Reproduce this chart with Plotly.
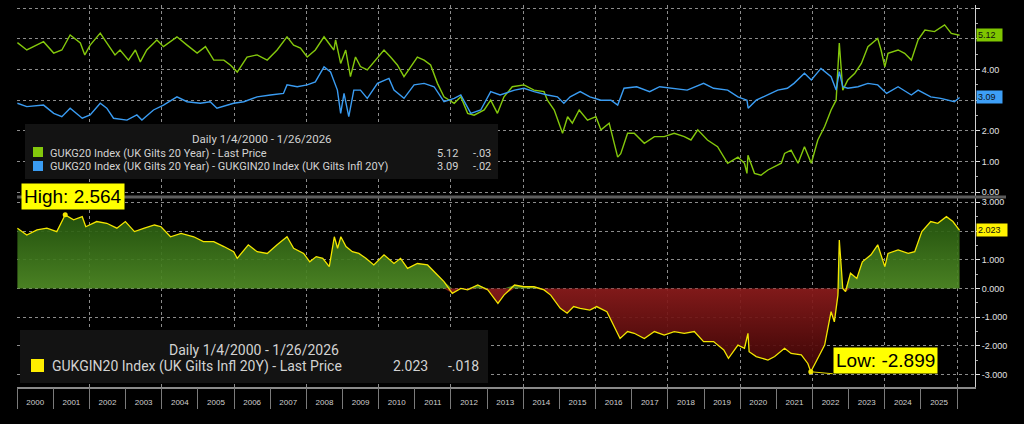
import plotly.graph_objects as go

# ---------------- data ----------------
green_dates = ["2000-01-04","2000-04-08","2000-09-24","2001-01-05","2001-03-28","2001-06-20","2001-10-01","2001-11-15",
    "2002-01-08","2002-04-20","2002-06-25","2002-09-16","2002-11-06","2003-01-30","2003-04-10","2003-05-30","2003-08-03",
    "2003-11-13","2004-01-19","2004-06-03","2004-09-13","2004-12-24","2005-03-18","2005-06-10","2005-09-20","2005-11-24",
    "2006-02-02","2006-05-12","2006-08-22","2006-12-02","2007-03-12","2007-06-20","2007-08-26","2007-11-03","2008-01-10",
    "2008-04-01","2008-06-28","2008-09-02","2008-10-05","2008-10-23","2008-12-13","2009-02-02","2009-03-22","2009-05-12",
    "2009-07-01","2009-09-08","2009-11-13","2010-02-24","2010-05-01","2010-07-09","2010-09-14","2010-11-22","2011-01-27",
    "2011-04-05","2011-06-10","2011-08-18","2011-10-23","2012-02-03","2012-04-10","2012-06-18","2012-08-22","2012-12-02",
    "2013-02-06","2013-04-15","2013-06-20","2013-09-12","2014-01-08","2014-04-20","2014-07-30","2014-09-02","2014-11-10",
    "2015-02-02","2015-03-25","2015-05-12","2015-07-20","2015-10-12","2016-01-05","2016-02-25","2016-05-18","2016-08-12",
    "2016-09-12","2016-11-20","2017-01-26","2017-05-08","2017-08-18","2017-11-25","2018-03-06","2018-06-16","2018-08-22",
    "2018-10-30","2019-02-05","2019-05-18","2019-08-28","2019-12-10","2020-02-14","2020-03-10","2020-03-20","2020-05-25",
    "2020-07-30","2020-10-08","2020-12-15","2021-02-20","2021-03-25","2021-05-30","2021-08-08","2021-10-12","2021-12-20",
    "2022-02-24","2022-05-04","2022-07-08","2022-08-28","2022-09-29","2022-11-03","2022-12-24","2023-03-05","2023-05-10",
    "2023-07-15","2023-10-22","2023-11-25","2024-01-02","2024-02-03","2024-05-15","2024-07-20","2024-09-26","2024-12-03",
    "2025-02-10","2025-05-18","2025-08-28","2025-11-03","2026-01-26"]
green_vals = [4.88,4.64,4.91,4.54,4.64,5.13,4.87,4.48,
    4.80,5.19,4.87,4.48,4.64,4.31,4.64,4.25,4.64,
    4.97,4.75,5.07,4.80,4.54,4.75,4.31,4.31,4.15,
    3.92,4.41,4.48,4.31,4.64,5.07,4.80,4.70,4.41,
    4.64,5.07,4.80,4.64,4.97,4.20,4.64,3.77,4.41,
    4.10,3.99,4.25,4.64,4.41,4.15,3.77,4.09,4.41,
    4.31,4.15,3.55,3.11,2.90,3.11,2.57,2.51,2.68,
    3.00,2.57,3.11,3.44,3.50,3.33,3.28,3.00,2.68,
    1.92,2.46,2.25,2.68,2.35,2.46,2.03,2.25,1.14,
    1.25,1.92,1.92,1.59,1.81,1.81,1.92,1.81,1.70,
    2.03,1.70,1.48,0.94,1.14,0.94,0.61,1.20,0.61,
    0.55,0.72,0.83,0.94,1.26,1.37,0.94,1.48,0.94,
    1.70,2.14,2.68,3.00,4.87,3.33,3.66,3.88,4.20,
    4.75,5.02,4.64,4.09,4.53,4.64,4.53,4.31,4.97,
    5.29,5.24,5.46,5.18,5.12]

blue_dates = ["2000-01-04","2000-04-08","2000-09-24","2001-01-05","2001-03-28","2001-06-20","2001-10-20","2002-01-08",
    "2002-04-20","2002-06-25","2002-09-01","2003-01-15","2003-04-25","2003-06-15","2003-10-10","2004-01-19","2004-06-03",
    "2004-09-13","2005-01-25","2005-05-05","2005-07-12","2005-12-28","2006-04-10","2006-08-22","2007-01-03","2007-05-15",
    "2007-06-20","2007-10-01","2008-01-10","2008-04-01","2008-06-28","2008-09-02","2008-11-10","2008-12-13","2009-01-16",
    "2009-03-05","2009-04-25","2009-07-01","2009-09-08","2009-12-20","2010-04-15","2010-06-05","2010-09-14","2010-12-25",
    "2011-04-05","2011-07-15","2011-10-23","2012-02-03","2012-04-10","2012-07-20","2012-10-28","2013-02-06","2013-05-12",
    "2013-10-05","2014-01-08","2014-04-20","2014-09-02","2014-12-12","2015-02-15","2015-04-20","2015-07-30","2015-11-05",
    "2016-02-25","2016-06-05","2016-08-12","2016-10-15","2017-02-20","2017-07-01","2017-10-10","2018-03-06","2018-07-15",
    "2018-12-28","2019-04-08","2019-08-28","2019-12-10","2020-03-10","2020-03-22","2020-06-12","2020-10-08","2021-01-15",
    "2021-04-22","2021-06-28","2021-10-12","2021-12-20","2022-03-28","2022-07-08","2022-08-28","2022-09-29","2022-11-03",
    "2022-12-24","2023-04-05","2023-07-15","2023-10-22","2024-01-20","2024-05-15","2024-09-26","2024-12-03","2025-04-10",
    "2025-07-20","2025-12-05","2026-01-26"]
blue_vals = [2.90,2.79,2.84,2.57,2.46,2.74,2.41,2.52,
    2.90,2.74,2.41,2.35,2.52,2.35,2.68,2.84,3.11,
    2.95,2.90,2.95,2.74,2.90,2.95,3.11,3.17,3.22,
    3.50,3.44,3.50,3.60,4.09,3.92,3.33,2.57,3.22,
    2.46,3.33,3.33,3.06,3.55,3.71,3.33,3.06,3.50,
    3.55,3.44,2.95,3.06,3.17,2.57,2.68,3.28,3.17,
    3.33,3.39,3.28,3.17,3.11,2.90,3.11,3.28,3.11,
    3.00,3.00,2.84,3.39,3.44,3.28,3.44,3.39,3.33,
    3.55,3.39,3.33,3.11,3.00,2.74,3.00,3.17,3.33,
    3.39,3.55,3.88,3.66,4.04,3.77,3.33,3.93,3.44,
    3.39,3.44,3.55,3.50,3.22,3.44,3.17,3.33,3.11,
    3.06,2.95,3.09]

yellow_dates = ["2000-01-04","2000-04-08","2000-07-20","2000-10-28","2001-02-05","2001-05-01","2001-07-25","2001-10-20",
    "2001-11-25","2002-03-15","2002-06-25","2002-10-05","2002-12-30","2003-04-01","2003-07-10","2003-10-20","2003-12-25",
    "2004-03-30","2004-07-15","2004-11-20","2005-02-25","2005-06-10","2005-09-20","2005-12-28","2006-02-02","2006-05-25",
    "2006-08-22","2006-12-02","2007-03-12","2007-06-20","2007-08-26","2007-12-05","2008-02-05","2008-04-10","2008-06-15",
    "2008-08-20","2008-10-10","2008-11-12","2008-12-15","2009-02-05","2009-04-10","2009-06-15","2009-08-25","2009-11-13",
    "2010-02-24","2010-06-05","2010-08-10","2010-10-20","2011-01-27","2011-05-10","2011-08-18","2011-10-23","2012-01-15",
    "2012-04-10","2012-06-18","2012-09-28","2013-01-08","2013-04-20","2013-06-20","2013-10-05","2014-01-08","2014-04-20",
    "2014-07-30","2014-10-05","2015-01-10","2015-03-20","2015-05-25","2015-07-30","2015-11-05","2016-01-12","2016-04-25",
    "2016-07-01","2016-09-05","2016-11-20","2017-01-26","2017-05-08","2017-08-18","2017-11-25","2018-03-06","2018-06-16",
    "2018-09-25","2018-12-28","2019-04-08","2019-07-20","2019-09-05","2019-12-10","2020-02-14","2020-03-20","2020-04-01",
    "2020-06-12","2020-10-08","2020-12-15","2021-03-25","2021-05-30","2021-09-10","2021-11-15","2021-12-15","2022-02-24",
    "2022-05-04","2022-07-08","2022-08-10","2022-09-15","2022-09-29","2022-11-03","2022-12-01","2023-01-20","2023-03-25",
    "2023-05-20","2023-08-15","2023-10-22","2024-01-02","2024-02-03","2024-05-15","2024-08-25","2024-10-30","2025-01-10",
    "2025-04-10","2025-06-20","2025-09-15","2025-11-20","2026-01-26"]
yellow_vals = [2.10,1.86,2.04,2.10,1.98,2.564,2.39,2.50,
    2.15,2.33,2.27,2.10,2.33,1.98,2.10,2.21,2.15,
    1.80,1.92,1.80,1.63,1.63,1.46,1.28,1.05,1.52,
    1.28,1.22,1.52,1.80,1.40,1.22,0.93,1.11,1.05,
    0.76,1.80,1.40,1.80,1.46,1.28,1.22,1.05,0.82,
    1.17,0.87,1.05,0.70,0.87,0.82,0.47,0.24,-0.17,
    0.00,-0.05,0.12,-0.05,-0.52,-0.23,0.12,0.06,0.06,
    -0.05,-0.23,-0.69,-0.86,-0.63,-0.69,-0.75,-0.63,-0.81,
    -1.27,-1.74,-1.50,-1.56,-1.74,-1.50,-1.62,-1.50,-1.56,
    -1.50,-1.85,-1.85,-2.14,-2.43,-1.97,-2.08,-1.56,-2.20,
    -2.37,-2.49,-2.37,-2.08,-2.26,-2.31,-2.61,-2.899,-2.43,
    -1.97,-0.81,-1.16,-0.23,1.69,0.00,-0.11,0.53,0.35,
    0.93,1.17,1.52,0.76,1.22,1.34,1.22,1.28,1.98,
    2.33,2.27,2.50,2.33,2.023]

legend_period = "Daily 1/4/2000 - 1/26/2026"
green_name = "GUKG20 Index (UK Gilts 20 Year) - Last Price"
blue_name = "GUKG20 Index (UK Gilts 20 Year) - GUKGIN20 Index (UK Gilts Infl 20Y)"
yellow_name = "GUKGIN20 Index (UK Gilts Infl 20Y) - Last Price"
green_chg, blue_chg, yellow_chg = "-.03", "-.02", "-.018"
top_ticks = [0, 1, 2, 3, 4, 5, 6]
bottom_ticks = [-3, -2, -1, 0, 1, 2, 3]

# ---------------- colours / layout constants ----------------
GREEN, BLUE, YELLOW = "#84c80c", "#3a9cf2", "#f3e600"
TXT = "#d2d2d2"
W, H = 1024, 424
ML, MR, MT, MB = 17, 49, 5, 37
PW, PH = W - ML - MR, H - MT - MB
X_RANGE = ["1999-12-31", "2026-07-01"]


def px(x):
    return (x - ML) / PW


def py(y):
    return (H - MB - y) / PH


def hidden_under_tag(v, tags, tol):
    return any(abs(v - t) < tol for t in tags)


fig = go.Figure()
fig.add_trace(go.Scatter(x=green_dates, y=green_vals, mode="lines", line=dict(color=GREEN, width=1.4),
                         xaxis="x", yaxis="y", hoverinfo="skip"))
fig.add_trace(go.Scatter(x=blue_dates, y=blue_vals, mode="lines", line=dict(color=BLUE, width=1.4),
                         xaxis="x", yaxis="y", hoverinfo="skip"))

pos = [max(v, 0) for v in yellow_vals]
neg = [min(v, 0) for v in yellow_vals]
fig.add_trace(go.Scatter(x=yellow_dates, y=pos, mode="lines", line=dict(width=0), fill="tozeroy",
                         fillgradient=dict(type="vertical", start=0, stop=3,
                                           colorscale=[[0, "rgba(80,140,38,0.92)"], [1, "rgba(30,78,10,0.92)"]]),
                         xaxis="x2", yaxis="y2", hoverinfo="skip"))
fig.add_trace(go.Scatter(x=yellow_dates, y=neg, mode="lines", line=dict(width=0), fill="tozeroy",
                         fillgradient=dict(type="vertical", start=-3, stop=0,
                                           colorscale=[[0, "rgba(60,4,4,0.92)"], [1, "rgba(140,28,28,0.92)"]]),
                         xaxis="x2", yaxis="y2", hoverinfo="skip"))
fig.add_trace(go.Scatter(x=yellow_dates, y=yellow_vals, mode="lines", line=dict(color=YELLOW, width=1.3),
                         xaxis="x2", yaxis="y2", hoverinfo="skip"))

i_hi = yellow_vals.index(max(yellow_vals))
i_lo = yellow_vals.index(min(yellow_vals))
fig.add_trace(go.Scatter(x=[yellow_dates[i_hi], yellow_dates[i_lo]], y=[yellow_vals[i_hi], yellow_vals[i_lo]],
                         mode="markers", marker=dict(color=YELLOW, size=5), xaxis="x2", yaxis="y2", hoverinfo="skip"))
# carrier for the year-label axis
fig.add_trace(go.Scatter(x=[yellow_dates[0]], y=[0], mode="markers", marker=dict(opacity=0),
                         xaxis="x3", yaxis="y2", hoverinfo="skip"))

top_tags = [green_vals[-1], blue_vals[-1]]
bottom_tags = [yellow_vals[-1]]
top_text = ["" if (v == 6 or hidden_under_tag(v, top_tags, 0.2)) else f"{v:.2f}" for v in top_ticks]
bottom_text = ["" if hidden_under_tag(v, bottom_tags, 0.2) else f"{v:.3f}" for v in bottom_ticks]

grid = dict(showgrid=True, gridcolor="#8c8c8c", griddash="dot", gridwidth=1, zeroline=False)
fig.update_layout(
    width=W, height=H, margin=dict(l=ML, r=MR, t=MT, b=MB),
    paper_bgcolor="#000000", plot_bgcolor="#000000", showlegend=False,
    font=dict(family="Liberation Sans, Arial, sans-serif", color=TXT),
    xaxis=dict(domain=[0, 1], anchor="y", range=X_RANGE, type="date", tick0="2000-01-01", dtick="M24",
               showticklabels=False, ticks="", showline=False, **grid),
    xaxis2=dict(domain=[0, 1], anchor="y2", range=X_RANGE, type="date", tick0="2000-01-01", dtick="M24",
                showticklabels=False, ticks="", showline=True, linecolor="#8a8a8a", linewidth=2, **grid),
    xaxis3=dict(overlaying="x2", anchor="y2", side="bottom", range=X_RANGE, type="date", tick0="2000-01-01",
                dtick="M12", tickformat="%Y", ticklabelmode="period", ticks="outside", ticklen=21,
                tickcolor="#7a7a7a", tickwidth=1, showgrid=False, zeroline=False, showline=False,
                tickfont=dict(size=8, color="#cfcfcf"), ticklabelstandoff=-14),
    yaxis=dict(domain=[py(196), 1], anchor="x", range=[-0.13, 6.11], side="right",
               tickmode="array", tickvals=top_ticks, ticktext=top_text,
               ticks="outside", ticklen=4, tickcolor="#e0e0e0", tickfont=dict(size=9, color="#e0e0e0"),
               showline=True, linecolor="#d0d0d0", linewidth=1,
               minor=dict(tickmode="linear", tick0=0, dtick=0.5, ticks="outside", ticklen=2, tickcolor="#aaaaaa"),
               **grid),
    yaxis2=dict(domain=[0, py(198)], anchor="x2", range=[-3.43, 3.15], side="right",
                tickmode="array", tickvals=bottom_ticks, ticktext=bottom_text,
                ticks="outside", ticklen=4, tickcolor="#e0e0e0", tickfont=dict(size=9, color="#e0e0e0"),
                showline=True, linecolor="#d0d0d0", linewidth=1,
                minor=dict(tickmode="linear", tick0=0, dtick=0.5, ticks="outside", ticklen=2, tickcolor="#aaaaaa"),
                **grid),
)

shapes = [
    # panel separator
    dict(type="line", xref="paper", yref="paper", x0=px(17), x1=px(1006), y0=py(197), y1=py(197),
         line=dict(color="#5c5c5c", width=3)),
    # legend boxes
    dict(type="rect", xref="paper", yref="paper", x0=px(25), x1=px(498), y0=py(179), y1=py(124),
         fillcolor="#131313", line=dict(width=0)),
    dict(type="rect", xref="paper", yref="paper", x0=px(20), x1=px(488), y0=py(383), y1=py(330),
         fillcolor="#131313", line=dict(width=0)),
    # legend swatches
    dict(type="rect", xref="paper", yref="paper", x0=px(33), x1=px(43), y0=py(157), y1=py(147),
         fillcolor=GREEN, line=dict(width=0)),
    dict(type="rect", xref="paper", yref="paper", x0=px(33), x1=px(43), y0=py(171), y1=py(161),
         fillcolor=BLUE, line=dict(width=0)),
    dict(type="rect", xref="paper", yref="paper", x0=px(31), x1=px(44), y0=py(372), y1=py(359),
         fillcolor="#ffee00", line=dict(width=0)),
]
fig.update_layout(shapes=shapes)

LF = "Roboto, Liberation Sans, sans-serif"
ann = []


def txt(x, y, s, size, anchor="left", color=TXT):
    ann.append(dict(xref="paper", yref="paper", x=px(x), y=py(y), text=s, showarrow=False,
                    xanchor=anchor, yanchor="middle", font=dict(family=LF, size=size, color=color)))


txt(262, 139, legend_period, 11.5, "center")
txt(48, 153, green_name, 11)
txt(48, 167, blue_name, 11)
txt(460, 153, f"{green_vals[-1]:.2f}", 11, "right")
txt(493, 153, green_chg, 11, "right")
txt(460, 167, f"{blue_vals[-1]:.2f}", 11, "right")
txt(493, 167, blue_chg, 11, "right")
txt(254, 350, legend_period, 14, "center")
txt(50, 366, yellow_name, 14)
txt(430, 366, f"{yellow_vals[-1]:.3f}", 14, "right")
txt(481, 366, yellow_chg, 14, "right")

# last-value tags on the right axis
for val, yref, col, fmt in [(green_vals[-1], "y", "#7fc600", "{:.2f}"), (blue_vals[-1], "y", "#3d9ff7", "{:.2f}"),
                            (yellow_vals[-1], "y2", "#fff200", "{:.3f}")]:
    ann.append(dict(xref="paper", yref=yref, x=1, y=val, xanchor="left", yanchor="middle", xshift=1,
                    text=fmt.format(val) + "  ", showarrow=False, bgcolor=col, borderpad=1,
                    font=dict(family="Liberation Sans, Arial, sans-serif", size=9, color="#111111")))

# high / low call-outs
ann.append(dict(xref="x2", yref="y2", x=yellow_dates[i_hi], y=yellow_vals[i_hi], showarrow=False,
                xanchor="left", yanchor="bottom", xshift=-44, yshift=5,
                text=f"High: {yellow_vals[i_hi]:.3f}", bgcolor="#ffff00", borderpad=2,
                font=dict(family="Liberation Sans, Arial, sans-serif", size=19, color="#000000")))
ann.append(dict(xref="x2", yref="y2", x=yellow_dates[i_lo], y=yellow_vals[i_lo], showarrow=True,
                arrowhead=0, arrowwidth=1, arrowcolor="#e8dc00", ax=22, ay=2, xanchor="left", yanchor="bottom",
                text=f"Low: {yellow_vals[i_lo]:.3f}", bgcolor="#ffff00", borderpad=2,
                font=dict(family="Liberation Sans, Arial, sans-serif", size=19, color="#000000")))
fig.update_layout(annotations=ann)

fig.write_html("out.html")
